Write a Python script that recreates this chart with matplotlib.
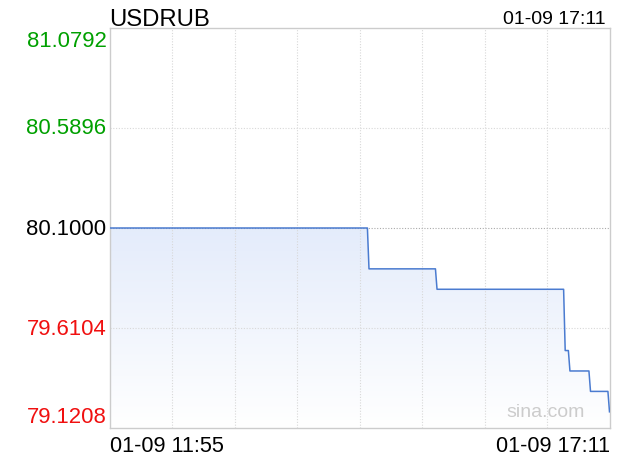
import numpy as np
import matplotlib.pyplot as plt
from matplotlib.patches import Polygon

plt.rcParams['font.family'] = ['Liberation Sans', 'DejaVu Sans']

symbol = "USDRUB"
date = "01-09"
times = ["11:55", "14:38", "14:39", "15:21", "15:22", "16:42", "16:43",
         "16:45", "16:46", "16:58", "16:59", "17:10", "17:11"]
prices = [80.10, 80.10, 79.90, 79.90, 79.80, 79.80, 79.50,
          79.50, 79.40, 79.40, 79.30, 79.30, 79.20]
prev_close = 80.1000
y_ticks = [79.1208, 79.6104, 80.1000, 80.5896, 81.0792]


def to_min(t):
    h, m = t.split(":")
    return int(h) * 60 + int(m)


x = np.array([to_min(t) for t in times])
y = np.array(prices)
x0, x1 = x[0], x[-1]

fig = plt.figure(figsize=(6.2, 4.6), dpi=100)
ax = fig.add_axes([109.5 / 620, 31 / 460, 500 / 620, 400 / 460])
ax.set_xlim(x0, x1)
ax.set_ylim(y_ticks[0], y_ticks[-1])

# gradient fill under the line
grad = np.linspace(0, 1, 256).reshape(-1, 1)
top_c = np.array([0.894, 0.925, 0.984])
img = np.ones((256, 1, 3)) * (1 - grad[..., None]) + top_c * grad[..., None]
top_y = y.max()
im = ax.imshow(img, aspect="auto", origin="lower",
               extent=[x0, x1, y_ticks[0], top_y], zorder=1)
poly = Polygon(np.column_stack([np.r_[x, x1, x0], np.r_[y, y_ticks[0], y_ticks[0]]]),
               closed=True, facecolor="none", edgecolor="none")
ax.add_patch(poly)
im.set_clip_path(poly)

ax.plot(x, y, color="#4a7bd0", lw=1.1, zorder=3)

# grid
for i in range(1, 8):
    ax.axvline(x0 + (x1 - x0) * i / 8, color="#d8d8d8", lw=0.8, ls=(0, (1, 1.5)), zorder=2)
for v in y_ticks[1:-1]:
    c = "#aaaaaa" if v == prev_close else "#d8d8d8"
    ax.axhline(v, color=c, lw=0.8, ls=(0, (1, 1.5)), zorder=2)

for s in ax.spines.values():
    s.set_color("#cccccc")
    s.set_linewidth(1)

ax.set_xticks([])
ax.set_yticks([])

for i, v in enumerate(y_ticks):
    if v > prev_close:
        col = "#00a000"
    elif v < prev_close:
        col = "#f01010"
    else:
        col = "black"
    pos = (v - y_ticks[0]) / (y_ticks[-1] - y_ticks[0])
    va = "center"
    if i == 0:
        pos, va = 0.015, "baseline"
    elif i == len(y_ticks) - 1:
        pos, va = 0.995, "top"
    ax.text(-0.006, pos, f"{v:.4f}", transform=ax.transAxes, ha="right",
            va=va, fontsize=15.9, color=col)

ax.text(0, 1.0075, symbol, transform=ax.transAxes, ha="left", va="baseline", fontsize=17.2)
ax.text(0.992, 1.0125, f"{date} {times[-1]}", transform=ax.transAxes, ha="right",
        va="baseline", fontsize=14)
ax.text(0, -0.0575, f"{date} {times[0]}", transform=ax.transAxes, ha="left",
        va="baseline", fontsize=15.7)
ax.text(1, -0.0575, f"{date} {times[-1]}", transform=ax.transAxes, ha="right",
        va="baseline", fontsize=15.7)
ax.text(0.95, 0.03, "sina.com", transform=ax.transAxes, ha="right", va="baseline",
        fontsize=14, color="#cccccc", zorder=4)

fig.savefig("out.png", dpi=100)
